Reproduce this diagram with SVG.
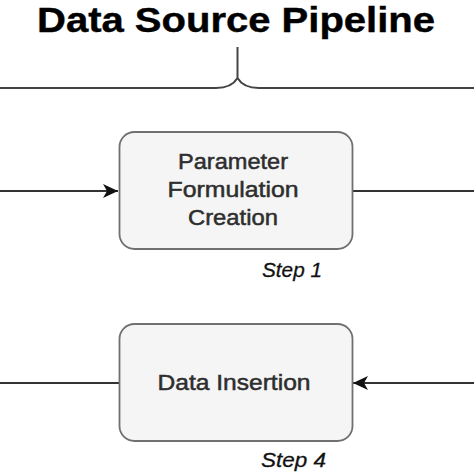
<svg xmlns="http://www.w3.org/2000/svg" width="474" height="474" viewBox="0 0 474 474">
<style>
.box{fill:#f5f5f5;stroke:#707070;stroke-width:1.8}
.lbl{font-family:"Liberation Sans",Arial,sans-serif;font-size:22px;fill:#2e2e2e;stroke:#2e2e2e;stroke-width:0.5;text-anchor:middle}
.step{font-family:"Liberation Sans",Arial,sans-serif;font-size:21px;font-style:italic;fill:#111;stroke:#111;stroke-width:0.3}
.conn{stroke:#333;stroke-width:2;fill:none}
.brace{stroke:#444;stroke-width:2;fill:none}
</style>
<defs>
<marker id="arr" viewBox="0 0 16 16" refX="15" refY="8" markerWidth="16" markerHeight="16" markerUnits="userSpaceOnUse" orient="auto">
<path d="M0,1 L15,8 L0,15 L4,8 Z" fill="#111"/>
</marker>
</defs>
<rect width="474" height="474" fill="#fff"/>
<text x="236" y="32" font-family="Liberation Sans,Arial,sans-serif" font-size="35" font-weight="bold" fill="#000" stroke="#000" stroke-width="0.4" text-anchor="middle" textLength="398" lengthAdjust="spacingAndGlyphs">Data Source Pipeline</text>
<g id="brace">
<path class="brace" d="M0,88 L216,88 C228,88 234,84 237.5,78 C241,84 247,88 259,88 L474,88 M237.5,79 L237.5,47"/>
</g>
<g id="connectors">
<line class="conn" x1="0" y1="191" x2="118" y2="191" marker-end="url(#arr)"/>
<line class="conn" x1="352" y1="191" x2="474" y2="191"/>
<line class="conn" x1="0" y1="383" x2="119" y2="383"/>
<line class="conn" x1="474" y1="383" x2="353" y2="383" marker-end="url(#arr)"/>
</g>
<g id="node1">
<rect class="box" x="119.5" y="132" width="233" height="117" rx="15"/>
<text class="lbl" x="233" y="169" textLength="110" lengthAdjust="spacingAndGlyphs">Parameter</text>
<text class="lbl" x="233" y="197" textLength="131" lengthAdjust="spacingAndGlyphs">Formulation</text>
<text class="lbl" x="233" y="225" textLength="90" lengthAdjust="spacingAndGlyphs">Creation</text>
<text class="step" x="262" y="277" textLength="60" lengthAdjust="spacingAndGlyphs">Step 1</text>
</g>
<g id="node2">
<rect class="box" x="119.5" y="324" width="233" height="117" rx="15"/>
<text class="lbl" x="234" y="390" textLength="153" lengthAdjust="spacingAndGlyphs">Data Insertion</text>
<text class="step" x="261" y="467" textLength="65" lengthAdjust="spacingAndGlyphs">Step 4</text>
</g>
</svg>
